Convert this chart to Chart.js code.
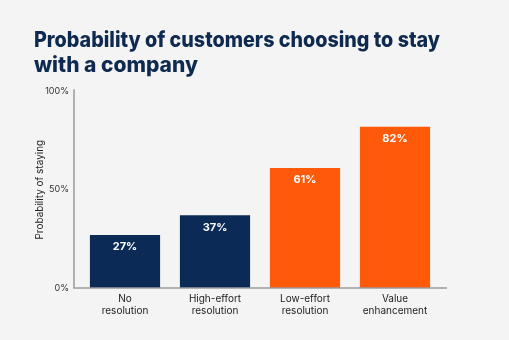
<!DOCTYPE html>
<html>
<head>
<meta charset="utf-8">
<script src="https://cdn.jsdelivr.net/npm/chart.js@4/dist/chart.umd.min.js"></script>
<style>
  html,body{margin:0;padding:0;background:#f4f4f4;}
  #wrap{width:509px;height:340px;position:relative;}
</style>
</head>
<body>
<div id="wrap"><canvas id="c"></canvas></div>
<script>
const categories = [['No', 'resolution'], ['High-effort', 'resolution'], ['Low-effort', 'resolution'], ['Value', 'enhancement']];
const stayValues = [27, 37, 61, 82];
const barColors = ['#0b2a55', '#0b2a55', '#fe5a0a', '#fe5a0a'];
const yTicks = [0, 50, 100];

const FONT = 'Inter, "Noto Sans", sans-serif';

// axis lines sit a little outside the plot area, like the original
const axisLines = {
  id: 'axisLines',
  afterDraw(chart){
    const {ctx, chartArea:a} = chart;
    ctx.save();
    ctx.strokeStyle = '#9a9a9a'; ctx.lineWidth = 1.5;
    ctx.beginPath();
    ctx.moveTo(a.left-6, a.top-2); ctx.lineTo(a.left-6, a.bottom);
    ctx.lineTo(a.right+7, a.bottom);
    ctx.stroke();
    ctx.restore();
  }
};

const valueLabels = {
  id: 'valueLabels',
  afterDatasetsDraw(chart){
    const {ctx} = chart;
    const meta = chart.getDatasetMeta(0);
    ctx.save();
    ctx.fillStyle = '#ffffff';
    ctx.font = 'bold 11px ' + FONT;
    ctx.textAlign = 'center'; ctx.textBaseline = 'middle';
    meta.data.forEach((bar, i) => {
      ctx.fillText(stayValues[i] + '%', bar.x, bar.y + 12);
    });
    ctx.restore();
  }
};

new Chart(document.getElementById('c'), {
  type: 'bar',
  data: {
    labels: categories,
    datasets: [{ data: stayValues, backgroundColor: barColors, borderWidth: 0,
      barPercentage: 0.78, categoryPercentage: 1 }]
  },
  options: {
    responsive: true, maintainAspectRatio: false, animation: false,
    layout: { padding: { left: 34, right: 69, top: 0, bottom: 18 } },
    plugins: {
      legend: { display: false }, tooltip: { enabled: false },
      title: {
        display: true, align: 'start', color: '#0e2a50',
        text: ['Probability of customers choosing to stay', 'with a company'],
        font: { family: FONT, size: 21, weight: '800', lineHeight: 1.15 },
        padding: { top: 29, bottom: 14 }
      }
    },
    scales: {
      x: {
        grid: { display: false, drawTicks: false }, border: { display: false },
        ticks: { color: '#222', font: { family: FONT, size: 10, lineHeight: 1.2 }, padding: 5, maxRotation: 0 }
      },
      y: {
        min: 0, max: 100,
        afterFit(s){ s.width = 46; },
        afterBuildTicks(s){ s.ticks = yTicks.map(v => ({value: v})); },
        grid: { display: false, drawTicks: false }, border: { display: false },
        ticks: { color: '#333', font: { family: FONT, size: 9 }, padding: 11, callback: v => v + '%' },
        title: { display: true, text: 'Probability of staying', color: '#222',
          font: { family: FONT, size: 10 }, padding: 0 }
      }
    }
  },
  plugins: [axisLines, valueLabels]
});
</script>
</body>
</html>
